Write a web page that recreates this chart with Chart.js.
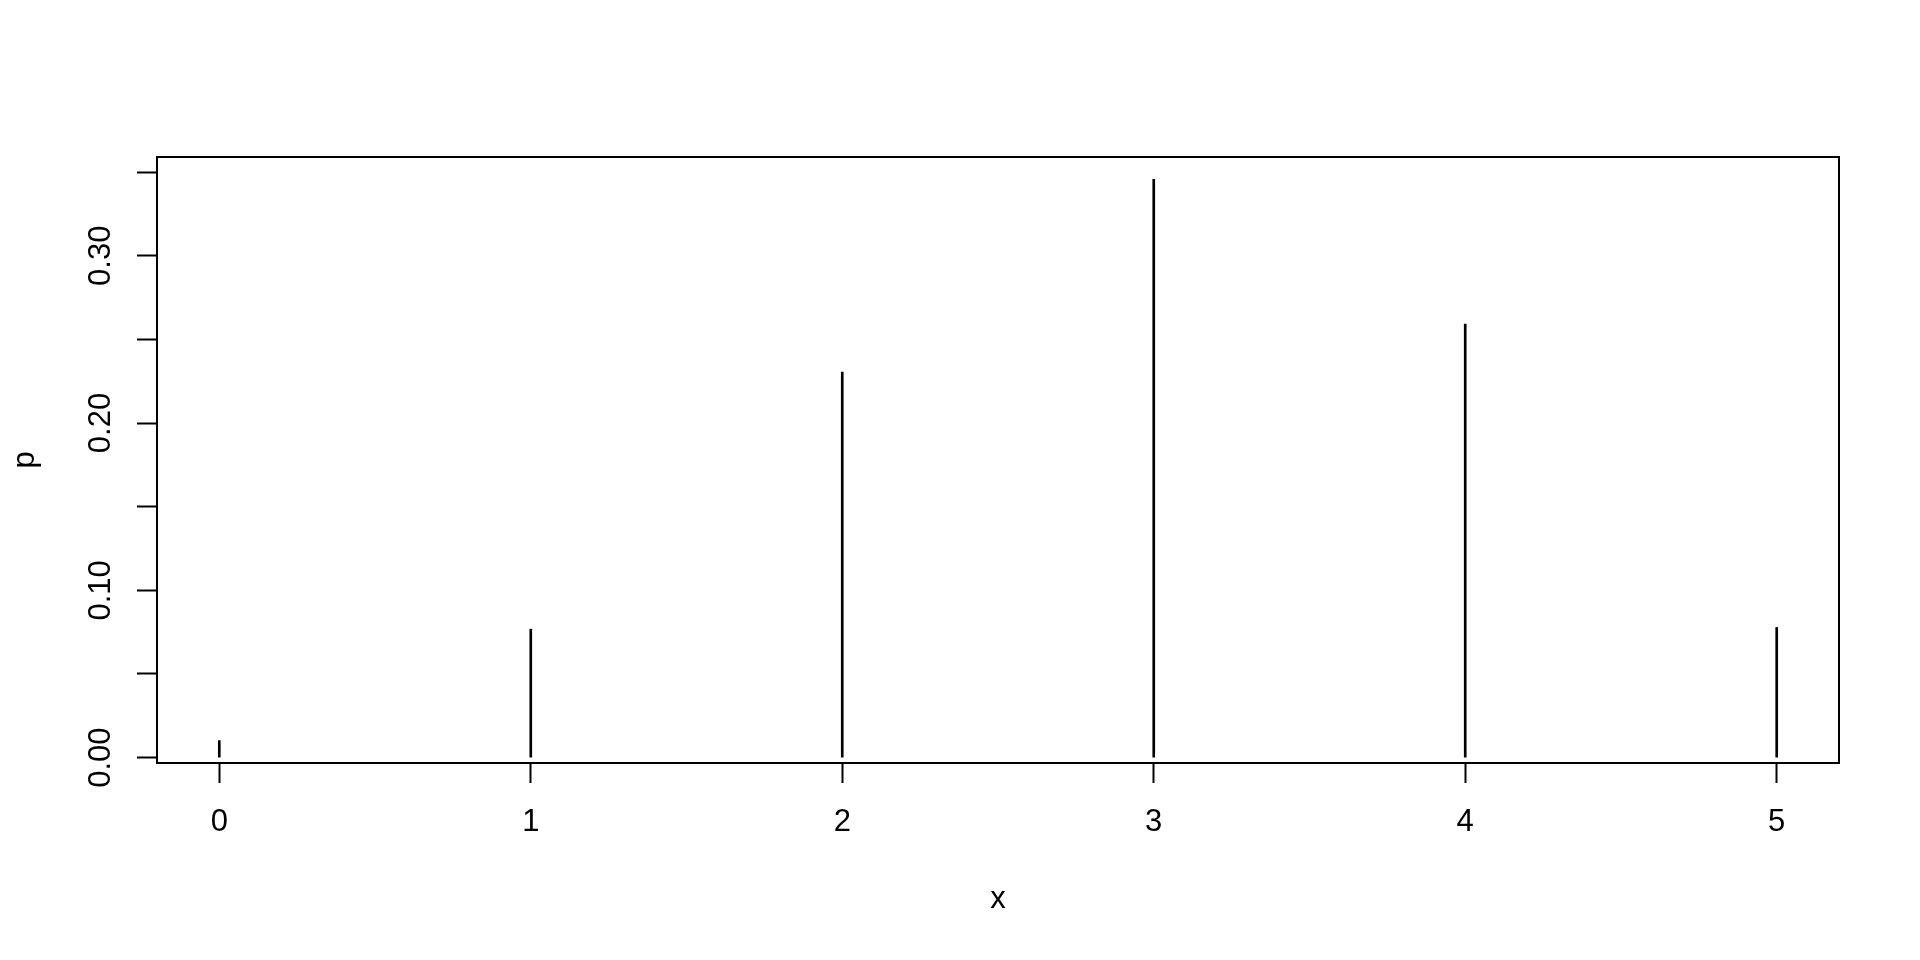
<!DOCTYPE html>
<html>
<head>
<meta charset="utf-8">
<script src="https://cdn.jsdelivr.net/npm/chart.js@4.4.1/dist/chart.umd.min.js"></script>
<style>
  html, body { margin: 0; padding: 0; background: #fff; }
  canvas { display: block; }
</style>
</head>
<body>
<canvas id="grafico" width="1920" height="960"></canvas>
<script>
// dados
const valoresX = [0, 1, 2, 3, 4, 5];
const valoresP = [0.0102, 0.0768, 0.2304, 0.3456, 0.2592, 0.0778];
const rotulosY = ['0.00', '0.10', '0.20', '0.30'];   // só estes aparecem no eixo
const passoY = 0.05;
const limitesX = [-0.2, 5.2];
const limitesY = [-0.0032, 0.359];

const fonte = { family: '"Liberation Sans", Arial, sans-serif', size: 31, lineHeight: 1.2 };

// caixa em volta da área do gráfico (como o box() do R)
const caixa = {
    id: 'caixa',
    afterDraw(chart) {
        const a = chart.chartArea;
        const ctx = chart.ctx;
        ctx.save();
        ctx.strokeStyle = '#000';
        ctx.lineWidth = 2;
        ctx.strokeRect(a.left, a.top, a.right - a.left, a.bottom - a.top);
        ctx.restore();
    }
};

const pontos = valoresX.map((x, i) => ({ x: x, y: valoresP[i] }));

new Chart(document.getElementById('grafico'), {
    type: 'bar',
    data: {
        datasets: [{
            data: pontos,
            backgroundColor: '#000',
            borderWidth: 0,
            barThickness: 2
        }]
    },
    options: {
        responsive: false,
        animation: false,
        devicePixelRatio: 1,
        layout: { padding: { top: 157, right: 81, left: 0, bottom: 0 } },
        plugins: {
            legend: { display: false },
            tooltip: { enabled: false }
        },
        scales: {
            x: {
                type: 'linear',
                min: limitesX[0],
                max: limitesX[1],
                offset: false,
                afterFit: function (scale) { scale.height = 197; },
                grid: { display: true, offset: false, drawOnChartArea: false, drawTicks: true, tickLength: 20, tickColor: '#000', tickWidth: 2 },
                border: { display: false },
                ticks: {
                    stepSize: 1,
                    includeBounds: false,
                    autoSkip: false,
                    maxRotation: 0,
                    padding: 21,
                    color: '#000',
                    font: fonte,
                    callback: function (value) { return valoresX.includes(Math.round(value)) ? String(Math.round(value)) : ''; }
                },
                title: { display: true, text: 'x', color: '#000', font: fonte, padding: { top: 0, bottom: 42 } }
            },
            y: {
                min: limitesY[0],
                max: limitesY[1],
                afterFit: function (scale) { scale.width = 157; },
                grid: { display: true, drawOnChartArea: false, drawTicks: true, tickLength: 20, tickColor: '#000', tickWidth: 2 },
                border: { display: false },
                ticks: {
                    stepSize: passoY,
                    includeBounds: false,
                    autoSkip: false,
                    minRotation: 90,
                    maxRotation: 90,
                    crossAlign: 'center',
                    padding: 5,
                    color: '#000',
                    font: fonte,
                    callback: function (value) {
                        const txt = value.toFixed(2);
                        return rotulosY.includes(txt) ? txt : '';
                    }
                },
                title: { display: true, text: 'p', color: '#000', font: fonte, padding: { top: 7, bottom: 0 } }
            }
        }
    },
    plugins: [caixa]
});
</script>
</body>
</html>
